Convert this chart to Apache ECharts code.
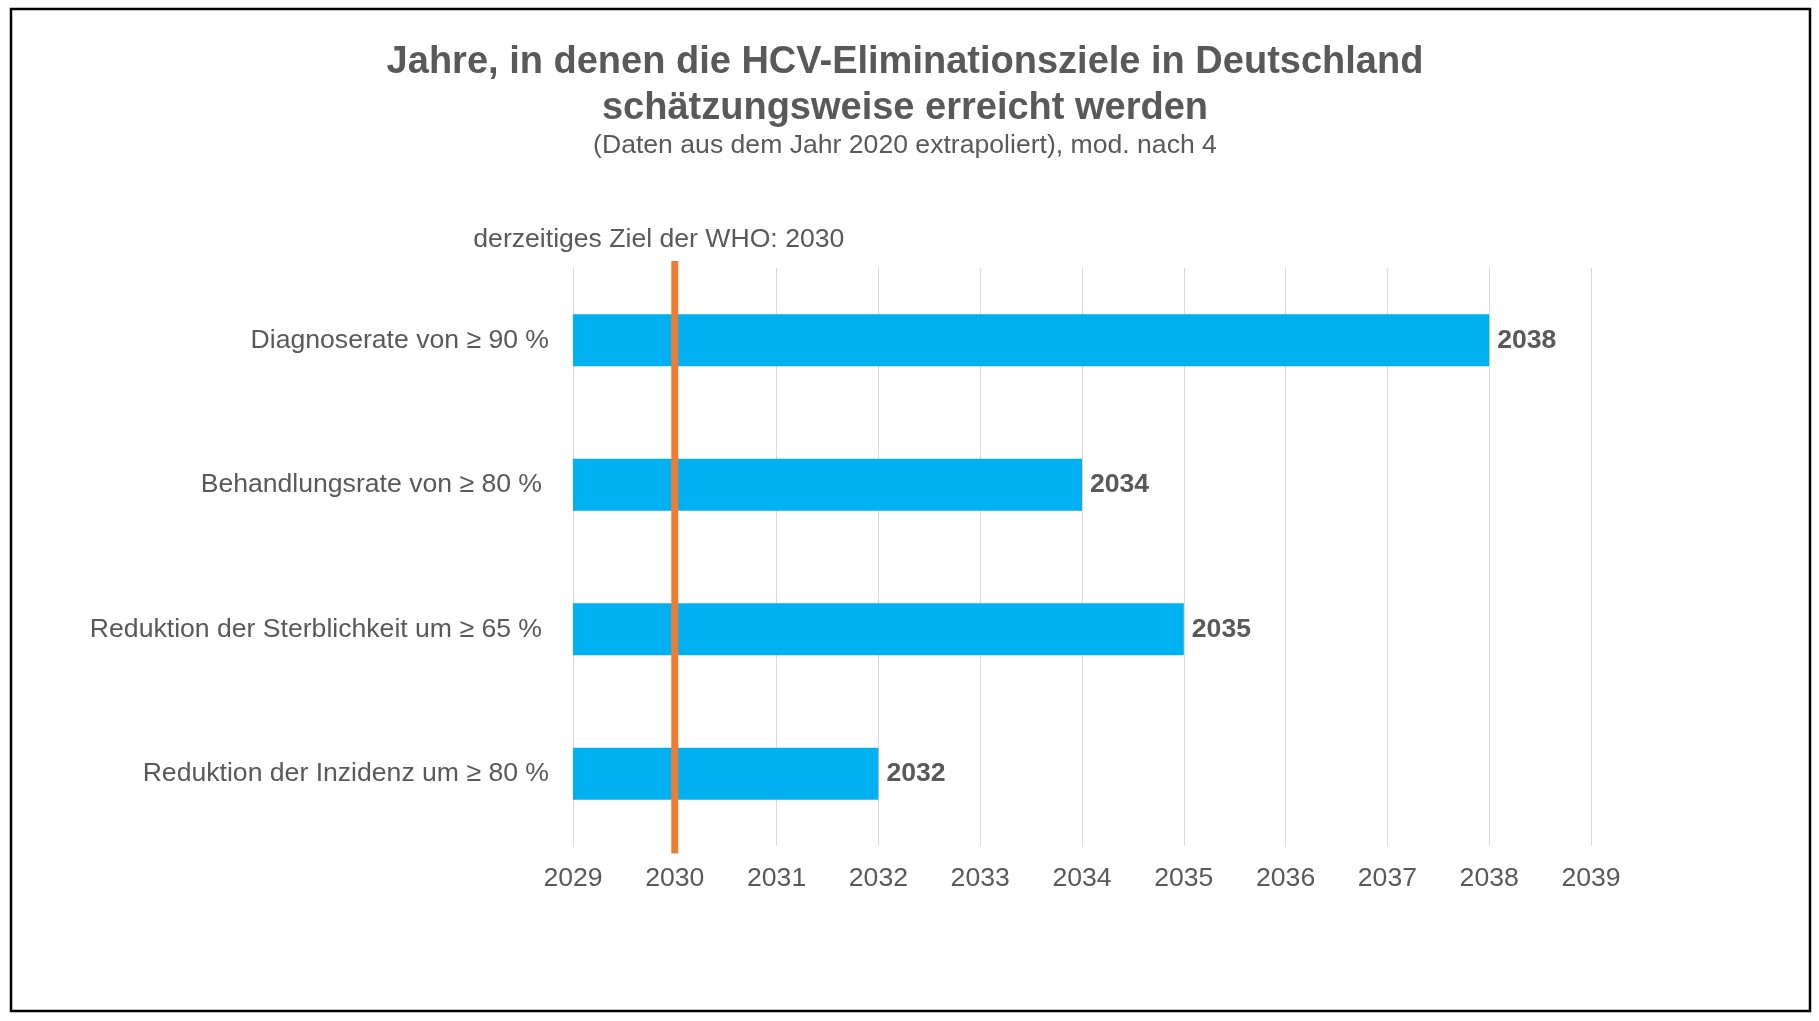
<!DOCTYPE html>
<html>
<head>
<meta charset="utf-8">
<script src="https://cdn.jsdelivr.net/npm/echarts@6/dist/echarts.min.js"></script>
<style>
  html, body { margin: 0; padding: 0; background: #fff; }
  #chart { width: 1819px; height: 1021px; }
</style>
</head>
<body>
<div id="chart"></div>
<script>
// Ziele und geschätzte Jahre
const goals = ['Diagnoserate von ≥ 90 %', 'Behandlungsrate von ≥ 80 %', 'Reduktion der Sterblichkeit um ≥ 65 %', 'Reduktion der Inzidenz um ≥ 80 %'];
const years = [2038, 2034, 2035, 2032];
const yearTicks = [2029, 2030, 2031, 2032, 2033, 2034, 2035, 2036, 2037, 2038, 2039];
const whoTarget = 2030;

const font = '"Liberation Sans", Arial, sans-serif';
const textColor = '#595959';
const fs = 26.6;

const chart = echarts.init(document.getElementById('chart'));

const option = {
  animation: false,
  backgroundColor: '#fff',
  textStyle: { fontFamily: font },
  title: {
    text: 'Jahre, in denen die HCV-Eliminationsziele in Deutschland\nschätzungsweise erreicht werden',
    subtext: '(Daten aus dem Jahr 2020 extrapoliert), mod. nach 4',
    left: 905,
    textAlign: 'center',
    top: 40,
    padding: 0,
    itemGap: -1,
    textStyle: { fontFamily: font, fontSize: 38, fontWeight: 'bold', color: textColor, lineHeight: 46 },
    subtextStyle: { fontFamily: font, fontSize: fs, color: textColor, lineHeight: 30 }
  },
  graphic: [{
    type: 'rect',
    shape: { x: 11, y: 9, width: 1799, height: 1002 },
    style: { fill: 'none', stroke: '#000', lineWidth: 2.5 },
    silent: true
  }],
  grid: { left: 573, right: 228, top: 268, bottom: 175 },
  xAxis: {
    type: 'value',
    min: yearTicks[0],
    max: yearTicks[yearTicks.length - 1],
    interval: 1,
    axisLine: { show: false },
    axisTick: { show: false },
    axisLabel: { fontSize: fs, color: textColor, margin: 19, fontFamily: font, formatter: v => String(v) },
    splitLine: { lineStyle: { color: '#D9D9D9', width: 1 } }
  },
  yAxis: [{
    type: 'category',
    data: goals,
    inverse: true,
    axisLine: { show: false },
    axisTick: { show: false },
    axisLabel: {
      fontSize: fs,
      color: textColor,
      margin: 24,
      fontFamily: font,
      formatter: (v, i) => (i === 1 || i === 2) ? '{p|' + v + '}' : v,
      rich: { p: { fontSize: fs, color: textColor, fontFamily: font, padding: [0, 7, 0, 0] } }
    }
  }, {
    type: 'value',
    min: 0,
    max: 1,
    show: false
  }],
  series: [{
    type: 'bar',
    data: years,
    barWidth: 52,
    itemStyle: { color: '#00B0F0' },
    label: {
      show: true,
      position: 'right',
      distance: 8,
      fontSize: fs,
      fontWeight: 'bold',
      color: textColor,
      fontFamily: font
    },
    silent: true
  }, {
    type: 'line',
    yAxisIndex: 1,
    clip: false,
    symbol: 'circle',
    symbolSize: 0,
    lineStyle: { color: '#ED7D31', width: 7 },
    data: [
      { value: [whoTarget, -0.013] },
      {
        value: [whoTarget, 1.012],
        label: {
          show: true,
          position: 'top',
          distance: 8,
          offset: [-16, 0],
          formatter: 'derzeitiges Ziel der WHO: ' + whoTarget,
          fontSize: fs,
          color: textColor,
          fontFamily: font
        }
      }
    ],
    silent: true,
    z: 5
  }]
};

chart.setOption(option);
</script>
</body>
</html>
